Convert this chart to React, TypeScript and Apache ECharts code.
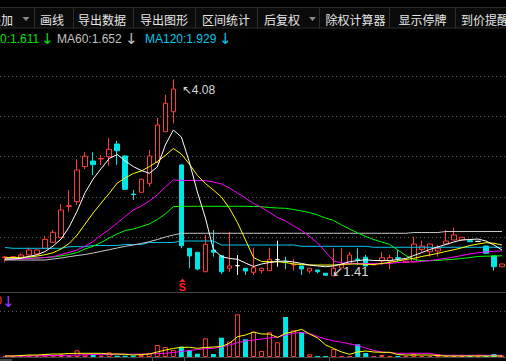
import React, { useEffect, useRef } from "react";
import * as echarts from "echarts";

// [open, close, low, high]
const ohlc: number[][] = [
  [1.660, 1.668, 1.596, 1.682], [1.650, 1.672, 1.646, 1.676], [1.650, 1.695, 1.645, 1.718], [1.695, 1.763, 1.690, 1.794],
  [1.709, 1.763, 1.705, 1.770], [1.786, 1.908, 1.780, 1.953], [1.867, 2.003, 1.860, 2.034], [1.930, 2.306, 1.925, 2.387],
  [2.355, 2.365, 2.283, 2.577], [2.419, 2.849, 2.374, 2.994], [2.894, 3.035, 2.862, 3.089], [2.971, 2.921, 2.781, 3.089],
  [2.998, 3.006, 2.917, 3.052], [3.029, 3.130, 2.907, 3.279], [3.202, 3.111, 2.921, 3.242], [3.039, 2.587, 2.580, 3.045],
  [2.522, 2.516, 2.442, 2.577], [2.546, 2.723, 2.540, 2.730], [2.668, 3.039, 2.622, 3.120], [2.953, 3.460, 2.950, 3.559],
  [3.369, 3.754, 3.365, 3.867], [3.640, 3.948, 3.483, 4.080], [2.917, 1.821, 1.786, 2.925], [1.786, 1.682, 1.515, 1.790],
  [1.732, 1.505, 1.487, 1.735], [1.468, 1.840, 1.465, 1.967], [1.763, 1.732, 1.672, 2.034], [1.686, 1.468, 1.437, 1.690],
  [1.515, 1.546, 1.468, 2.011], [1.550, 1.550, 1.424, 1.695], [1.515, 1.478, 1.425, 1.520], [1.460, 1.522, 1.425, 1.794],
  [1.482, 1.515, 1.447, 1.520], [1.482, 1.637, 1.478, 1.794], [1.632, 1.632, 1.536, 1.889], [1.602, 1.598, 1.501, 1.672],
  [1.560, 1.570, 1.482, 1.641], [1.546, 1.505, 1.424, 1.550], [1.478, 1.515, 1.447, 1.518], [1.491, 1.468, 1.447, 1.493],
  [1.447, 1.420, 1.414, 1.450], [1.412, 1.515, 1.410, 1.786], [1.519, 1.559, 1.515, 1.786], [1.573, 1.695, 1.570, 1.740],
  [1.640, 1.634, 1.559, 1.786], [1.664, 1.546, 1.540, 1.695], [1.560, 1.575, 1.555, 1.580], [1.614, 1.658, 1.559, 1.732],
  [1.614, 1.658, 1.505, 1.695], [1.660, 1.650, 1.604, 1.763], [1.595, 1.612, 1.590, 1.615], [1.604, 1.844, 1.600, 1.943],
  [1.772, 1.817, 1.740, 1.889], [1.740, 1.844, 1.672, 1.850], [1.749, 1.786, 1.672, 1.831], [1.844, 1.885, 1.831, 2.034],
  [1.899, 1.967, 1.895, 2.066], [1.899, 1.935, 1.895, 1.940], [1.889, 1.876, 1.872, 1.892], [1.880, 1.880, 1.876, 1.884],
  [1.817, 1.718, 1.715, 1.820], [1.682, 1.536, 1.482, 1.686], [1.536, 1.573, 1.530, 1.578],
];

const ma5 = [1.637,1.641,1.650,1.677,1.698,1.743,1.817,1.912,2.075,2.292, 2.543,2.727,2.869,3.005,3.059,2.971,2.896,2.842,2.804,2.890, 3.188,3.392,3.297,2.957,2.550,2.197,1.770,1.675,1.648,1.637, 1.586,1.539,1.573,1.593,1.607,1.614,1.600,1.580,1.559,1.546, 1.536,1.546,1.573,1.604,1.620,1.630,1.620,1.620,1.620,1.634, 1.648,1.688,1.729,1.770,1.804,1.838,1.872,1.899,1.905,1.912, 1.885,1.831,1.763];
const ma10 = [1.658,1.661,1.664,1.668,1.681,1.699,1.726,1.777,1.851,1.966, 2.116,2.265,2.401,2.530,2.672,2.740,2.801,2.835,2.894,2.964, 3.046,3.141,3.066,2.930,2.774,2.666,2.577,2.482,2.329,2.136, 1.899,1.661,1.607,1.604,1.604,1.593,1.573,1.566,1.559,1.559, 1.559,1.559,1.566,1.573,1.573,1.569,1.566,1.580,1.596,1.614, 1.634,1.650,1.675,1.695,1.718,1.743,1.766,1.793,1.824,1.844, 1.862,1.854,1.831];
const ma20 = [1.641,1.641,1.643,1.648,1.654,1.661,1.672,1.702,1.729,1.763, 1.817,1.878,1.966,2.041,2.129,2.218,2.306,2.360,2.428,2.510, 2.618,2.713,2.709,2.706,2.706,2.704,2.686,2.659,2.605,2.537, 2.469,2.394,2.340,2.272,2.204,2.157,2.089,2.028,1.946,1.858, 1.736,1.614,1.586,1.582,1.580,1.580,1.577,1.577,1.580,1.593, 1.600,1.600,1.607,1.620,1.634,1.650,1.668,1.688,1.709,1.726, 1.736,1.745,1.752];
const ma30 = [1.648,1.648,1.650,1.652,1.654,1.661,1.668,1.684,1.702,1.729, 1.777,1.813,1.865,1.926,1.980,2.028,2.048,2.082,2.116,2.177, 2.252,2.351,2.356,2.356,2.356,2.356,2.356,2.356,2.356,2.356, 2.356,2.353,2.351,2.340,2.333,2.329,2.313,2.292,2.272,2.238, 2.197,2.163,2.102,2.048,1.994,1.946,1.905,1.872,1.838,1.763, 1.688,1.634,1.618,1.618,1.620,1.631,1.637,1.648,1.661,1.675, 1.679,1.682,1.684];
const ma60 = [1.627,1.627,1.627,1.627,1.627,1.627,1.641,1.654,1.672,1.688, 1.702,1.722,1.745,1.767,1.790,1.813,1.831,1.851,1.876,1.905, 1.939,1.966,1.990,1.990,1.990,1.990,1.990,1.990,1.990,1.990, 1.990,1.990,1.990,1.990,1.990,1.990,1.990,1.990,1.990,1.990, 1.990,1.990,1.990,1.990,1.990,1.990,1.990,1.990,1.990,1.990, 1.990,2.000,2.000,2.000,2.000,2.014,2.014,2.014,2.014,2.014, 2.014,2.014,2.014];
const ma120 = [1.797,1.786,1.786,1.786,1.786,1.786,1.786,1.786,1.808,1.808, 1.808,1.824,1.824,1.824,1.824,1.838,1.838,1.838,1.865,1.865, 1.865,1.865,1.885,1.885,1.885,1.885,1.885,1.831,1.831,1.831, 1.831,1.831,1.831,1.831,1.831,1.831,1.831,1.813,1.813,1.813, 1.813,1.813,1.813,1.813,1.813,1.813,1.800,1.800,1.800,1.800, 1.800,1.800,1.800,1.800,1.800,1.800,1.800,1.800,1.800,1.800, 1.800,1.800,1.800];

const volume = [10,10,15,15,10,27,15,27,15,67, 25,20,15,47,13,13,13,20,40,120, 100,70,103,70,33,187,30,193,153,427, 177,253,60,247,147,400,267,247,27,10, 10,80,10,10,127,40,10,20,10,10, 10,30,10,10,27,10,10,10,10,10, 10,30,15];
const volMa5 = [10,10,15,20,20,25,30,30,35,37, 37,37,37,30,30,27,20,25,30,50, 70,85,97,97,87,95,100,105,137,203, 220,250,230,230,195,237,253,277,230,190, 120,85,50,27,50,60,50,47,47,25, 20,20,20,20,15,10,10,10,10,10, 10,10,10];
const volMa10 = [10,10,10,10,12,12,15,15,17,20, 22,25,27,27,28,28,28,28,30,35, 37,45,55,65,75,83,87,100,120,143, 160,170,180,190,200,220,237,245,233,205, 180,160,148,130,115,90,65,50,43,37, 37,37,37,37,20,17,17,17,17,17, 17,17,17];

const categories = ohlc.map((_, i) => String(i + 1));

const toolbarLabels = ["叠加", "画线", "导出数据", "导出图形", "区间统计", "后复权", "除权计算器", "显示停牌", "到价提醒"];
const legendTexts = ["0:1.611", "MA60:1.652", "MA120:1.929"];
const highLabel = "4.08";
const lowLabel = "1.41";

// layout (pixels) kept apart from data
const toolbarCenters = [1, 52, 102, 164, 226, 282, 355.5, 422.5, 485];
const toolbarSeparators = [34, 73, 133, 195, 257, 319, 389, 455];
const legendX = [0, 57, 145];
const legendArrowX = [41, 125, 219];
const legendColors = ["#00e000", "#c0c0c0", "#00c8e8"];

const RED = "#ff3c3c";
const CYAN = "#00e6e6";
const LATIN = '"Liberation Sans", Arial, sans-serif';
const ARROW = '"DejaVu Sans", sans-serif';
const CJK = '"Noto Sans CJK SC", sans-serif';

export default function App() {
  const ref = useRef<HTMLDivElement>(null);
  useEffect(() => {
    if (!ref.current) return;
    document.body.style.background = "#000";
    const chart = echarts.init(ref.current, undefined, { renderer: "svg" });

    const candleData = ohlc.map((d) =>
      d[0] === d[1]
        ? { value: d, itemStyle: { color: "#fff", color0: "#fff", borderColor: "#fff", borderColor0: "#fff" } }
        : d
    );
    const volData = volume.map((v, i) => {
      const up = ohlc[i][1] >= ohlc[i][0];
      return {
        value: v,
        itemStyle: up ? { color: "#000", borderColor: RED, borderWidth: 1 } : { color: CYAN, borderWidth: 0 },
      };
    });
    let hi = 0, lo = 0;
    ohlc.forEach((d, i) => {
      if (d[3] > ohlc[hi][3]) hi = i;
      if (d[2] < ohlc[lo][2]) lo = i;
    });

    const line = (data: number[], color: string, xi = 0, yi = 0) => ({
      type: "line", data, xAxisIndex: xi, yAxisIndex: yi, symbol: "none", silent: true, z: 4,
      lineStyle: { color, width: 1 },
    });

    const graphic: any[] = [];
    // toolbar
    graphic.push({ type: "rect", shape: { x: -1, y: 7.5, width: 510, height: 20.5 }, style: { fill: "#0b0b0b", stroke: "#2c2c2c", lineWidth: 1 } });
    toolbarSeparators.forEach((x) =>
      graphic.push({ type: "line", shape: { x1: x + 0.5, y1: 8, x2: x + 0.5, y2: 28 }, style: { stroke: "#2c2c2c", lineWidth: 1 } })
    );
    toolbarLabels.forEach((t, i) =>
      graphic.push({ type: "text", x: toolbarCenters[i], y: 19.5, style: { text: t, fill: "#e6e6e6", font: `12px ${CJK}`, textAlign: "center", textVerticalAlign: "middle" } })
    );
    [26, 312.5].forEach((cx) =>
      graphic.push({ type: "polygon", shape: { points: [[cx - 3.5, 17], [cx + 3.5, 17], [cx, 21]] }, style: { fill: "#8a8a8a" } })
    );
    // MA legend
    legendTexts.forEach((t, i) => {
      graphic.push({ type: "text", x: legendX[i], y: 39, style: { text: t, fill: legendColors[i], font: `12px ${LATIN}`, textVerticalAlign: "middle" } });
      graphic.push({ type: "text", x: legendArrowX[i], y: 39, style: { text: "↓", fill: legendColors[i], font: `15px ${ARROW}`, textVerticalAlign: "middle" } });
    });
    // separators
    graphic.push({ type: "line", shape: { x1: 0, y1: 292.5, x2: 506, y2: 292.5 }, style: { stroke: "#444", lineWidth: 1 } });
    graphic.push({ type: "line", shape: { x1: 0, y1: 357.5, x2: 506, y2: 357.5 }, style: { stroke: "#444", lineWidth: 1 } });
    [152, 184, 329].forEach((x) =>
      graphic.push({ type: "line", shape: { x1: x + 0.5, y1: 358, x2: x + 0.5, y2: 361 }, style: { stroke: "#555", lineWidth: 1 } })
    );
    graphic.push({ type: "rect", shape: { x: 0, y: 359, width: 12, height: 2 }, style: { fill: "#444" } });
    // S signal
    graphic.push({ type: "polygon", shape: { points: [[179.5, 282], [185.5, 282], [182.5, 278.5]] }, style: { fill: "#ff2020" } });
    graphic.push({ type: "text", x: 182.5, y: 286.5, style: { text: "S", fill: "#ff2020", font: `bold 11px ${LATIN}`, textAlign: "center", textVerticalAlign: "middle" } });
    // volume indicator
    graphic.push({ type: "text", x: 2, y: 301, style: { text: "0", fill: RED, font: `12px ${LATIN}`, textAlign: "right", textVerticalAlign: "middle" } });
    graphic.push({ type: "text", x: 2, y: 302, style: { text: "↓", fill: "#9040ff", font: `15px ${ARROW}`, textVerticalAlign: "middle" } });

    const option: any = {
      animation: false,
      backgroundColor: "#000",
      grid: [
        { left: 1, top: 45, width: 507, height: 245 },
        { left: 1, top: 292, width: 507, height: 65 },
        { left: 0, top: 76, width: 506, height: 161 },
        { left: 0, top: 311, width: 506, height: 46 },
      ],
      xAxis: [
        { type: "category", gridIndex: 0, data: categories, show: false },
        { type: "category", gridIndex: 1, data: categories, show: false },
        { type: "value", gridIndex: 2, show: false, min: 0, max: 1 },
        { type: "value", gridIndex: 3, show: false, min: 0, max: 1 },
      ],
      yAxis: [
        { type: "value", gridIndex: 0, min: 1.22, max: 4.5456, show: false },
        { type: "value", gridIndex: 1, min: 0, max: 650, show: false },
        {
          type: "value", gridIndex: 2, min: 0, max: 4, interval: 1,
          axisLine: { show: false }, axisTick: { show: false }, axisLabel: { show: false },
          splitLine: { show: true, lineStyle: { color: "#5a5a5a", type: [1, 3], width: 1 } },
        },
        {
          type: "value", gridIndex: 3, min: 0, max: 1, interval: 1,
          axisLine: { show: false }, axisTick: { show: false }, axisLabel: { show: false },
          splitLine: { show: true, showMinLine: false, lineStyle: { color: "#5a5a5a", type: [1, 3], width: 1 } },
        },
      ],
      graphic,
      series: [
        {
          type: "candlestick", xAxisIndex: 0, yAxisIndex: 0, data: candleData, barWidth: 5, z: 3, silent: true,
          itemStyle: { color: "#000", color0: CYAN, borderColor: RED, borderColor0: CYAN, borderWidth: 1 },
          markPoint: {
            symbol: "circle", symbolSize: 1, silent: true,
            itemStyle: { color: "rgba(0,0,0,0)" },
            data: [
              {
                coord: [hi, ohlc[hi][3]],
                label: { show: true, formatter: "↖" + highLabel, position: [9, 5], color: "#d8d8d8", fontSize: 12, fontFamily: LATIN },
              },
              {
                coord: [lo, ohlc[lo][2]],
                label: { show: true, formatter: "↙" + lowLabel, position: [-1, -11], color: "#d8d8d8", fontSize: 13, fontFamily: LATIN },
              },
            ],
          },
        },
        line(ma120, "#00c8f0"),
        line(ma60, "#c8c8c8"),
        line(ma30, "#00ff00"),
        line(ma20, "#ff00ff"),
        line(ma10, "#ffff00"),
        line(ma5, "#ffffff"),
        { type: "bar", xAxisIndex: 1, yAxisIndex: 1, data: volData, barWidth: 5, z: 3, silent: true },
        line(volMa10, "#ff00ff", 1, 1),
        line(volMa5, "#ffff00", 1, 1),
      ],
    };
    chart.setOption(option);
    return () => chart.dispose();
  }, []);
  return <div ref={ref} style={{ position: "fixed", left: 0, top: 0, width: 506, height: 361, background: "#000" }} />;
}
